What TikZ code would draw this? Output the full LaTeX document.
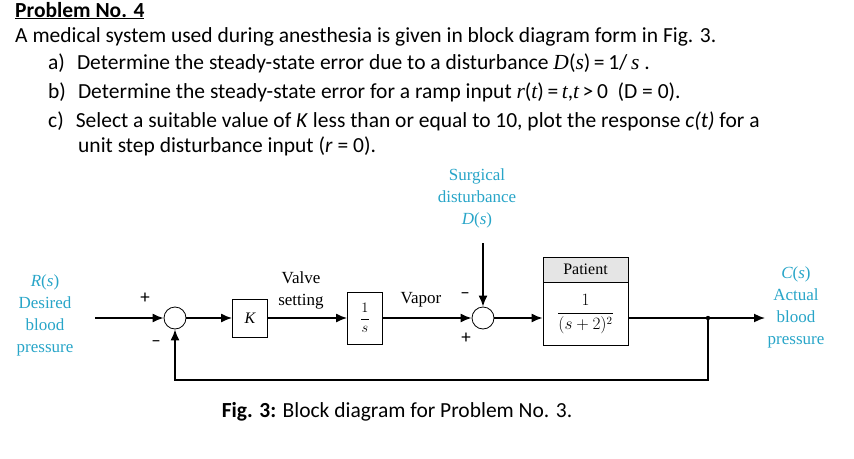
\documentclass[tikz,border=0pt]{standalone}
\usepackage{fontspec}
\setmainfont{Carlito}
\newfontfamily\tms{Liberation Serif}
\usetikzlibrary{arrows.meta}
\definecolor{sigblue}{RGB}{40,165,200}
\tikzset{
  txt/.style={anchor=base west, inner sep=0pt, font=\fontsize{21.5}{24}\selectfont},
  lbl/.style={inner sep=0pt, font=\tms\fontsize{17}{22}\selectfont},
  sig/.style={lbl, text=sigblue},
  blk/.style={draw, thick, minimum width=35pt, minimum height=38pt, inner sep=0pt},
  sumj/.style={draw, thick, circle, minimum size=22pt, inner sep=0pt},
  line/.style={line width=1.6pt, -{Latex[length=11pt,width=9pt]}},
  sgn/.style={inner sep=0pt, font=\fontsize{19}{19}\selectfont}
}
\begin{document}
\begin{tikzpicture}[x=1pt,y=-1pt]
\useasboundingbox (0,0) rectangle (854,458);

% Problem text
\node[txt, font=\bfseries\fontsize{21.5}{24}\selectfont] (title) at (15,17) {\underline{Problem No. 4}};
\node[txt] (intro) at (15,42) {A medical system used during anesthesia is given in block diagram form in Fig. 3.};
\node[txt] (qa) at (48,69) {a)\hspace{12pt}Determine the steady-state error due to a disturbance {\tms\itshape D}({\tms\itshape s})\,=\,1/\,{\tms\itshape s} .};
\node[txt] (qb) at (48,98) {b)\hspace{12pt}Determine the steady-state error for a ramp input {\tms\itshape r}({\tms\itshape t})\,=\,{\tms\itshape t},{\tms\itshape t}\,>\,0\ \ (D = 0).};
\node[txt] (qc) at (48,127) {c)\hspace{12pt}Select a suitable value of \textit{K} less than or equal to 10, plot the response \textit{c(t)} for a};
\node[txt] (qc2) at (78,152) {unit step disturbance input (\textit{r} = 0).};

% Blocks
\node[sumj] (s1) at (175,318) {};
\node[blk] (k) at (250,318) {\tms\fontsize{16}{16}\selectfont\itshape K};
\node[blk, minimum height=52pt] (integ) at (365,318) {\tms\fontsize{15}{15}\selectfont$\displaystyle\frac{1}{s}$};
\node[sumj] (s2) at (483,318) {};
\node[draw, thick, minimum width=85pt, minimum height=25pt, inner sep=0pt, fill=gray!20] (phead) at (585.5,269.5) {\tms\fontsize{16}{16}\selectfont Patient};
\node[draw, thick, minimum width=85pt, minimum height=63pt, inner sep=0pt, anchor=north] (plant) at (phead.south) {\tms\fontsize{16}{16}\selectfont$\displaystyle\frac{1}{(s+2)^2}$};
\coordinate (in) at (95,318);
\coordinate (out) at (765,318);
\coordinate (br) at (708,318);
\coordinate (fb) at (708,380);
\coordinate (dtop) at (483,243);

% Connectors
\draw[line] (in) -- (s1);
\draw[line] (s1) -- (k);
\draw[line] (k) -- (integ);
\draw[line] (integ) -- (s2);
\draw[line] (s2) -- (s2 -| plant.west);
\draw[line] (plant.east |- s2) -- (out);
\draw[line] (br) -- (fb) -| (s1);
\draw[line] (dtop) -- (s2);
\fill (br) circle (2.2pt);

% Signs
\node[sgn] (p1) at (145,298) {+};
\node[sgn] (m1) at (156,344) {--};
\node[sgn] (m2) at (465,296) {--};
\node[sgn] (p2) at (466,338) {+};

% Labels
\node[sig, align=center] (dlab) at (477,198) {Surgical\\disturbance\\\itshape D\upshape(\itshape s\upshape)};
\node[sig, align=center] (rlab) at (45,315) {\itshape R\upshape(\itshape s\upshape)\\Desired\\blood\\pressure};
\node[sig, align=center] (clab) at (796,307) {\itshape C\upshape(\itshape s\upshape)\\Actual\\blood\\pressure};
\node[lbl, align=center] (valve) at (301,290) {Valve\\setting};
\node[lbl] (vapor) at (421,300) {Vapor};

% Caption
\node[txt, anchor=base] (cap) at (397,417) {\textbf{Fig. 3:} Block diagram for Problem No. 3.};
\end{tikzpicture}
\end{document}
